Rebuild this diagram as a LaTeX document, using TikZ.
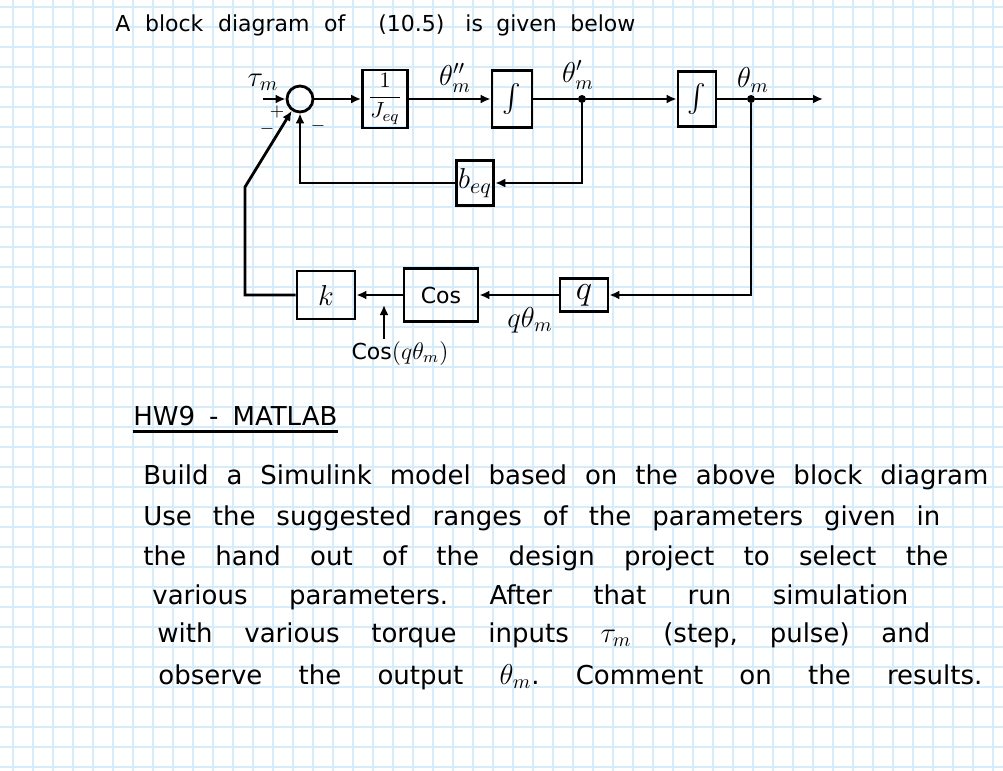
\documentclass[tikz,border=0pt]{standalone}
\usepackage{fontspec}
\usepackage{graphicx}
\setmainfont{DejaVu Sans}
\usetikzlibrary{arrows.meta}

\definecolor{gridblue}{RGB}{214,236,250}
\newcommand{\spreadline}[2]{\makebox[#1][s]{#2}}

\tikzset{
    gridline/.style={gridblue, line width=1pt},
    block/.style={draw, line width=1.4pt, inner sep=1pt, font=\fontsize{11}{13}\selectfont},
    sumjunction/.style={draw, circle, line width=1.4pt, minimum size=13pt, inner sep=0pt},
    junction/.style={circle, fill, inner sep=0pt, minimum size=4pt},
    wire/.style={line width=1.4pt},
    signal/.style={line width=1.4pt, -{Latex[length=5pt, width=4.5pt]}},
    label/.style={inner sep=1pt, font=\fontsize{14}{16}\selectfont},
    sign/.style={inner sep=0pt, font=\fontsize{9}{10}\selectfont},
    note/.style={inner sep=0pt, anchor=west, font=\fontsize{11}{13}\selectfont},
    body/.style={inner sep=0pt, anchor=west, font=\fontsize{13}{15}\selectfont}
}

\begin{document}
\frenchspacing
\begin{tikzpicture}[x=0.5pt, y=-0.5pt]
    \useasboundingbox (0,0) rectangle (1003,771);

    % Grid paper
    \foreach \gx in {13,33,...,993}
        \draw[gridline] (\gx,0) -- (\gx,771);
    \foreach \gy in {6.5,26.5,...,766.5}
        \draw[gridline] (0,\gy) -- (1003,\gy);

    % Title
    \node[note] (titlea) at (115,25) {\spreadline{115pt}{A block diagram of}};
    \node[note] (titleb) at (378,25) {(10.5)};
    \node[note] (titlec) at (465,25) {\spreadline{85pt}{is given below}};

    % Forward path
    \node[sumjunction] (sum) at (300,99) {};
    \node[block, minimum width=22.5pt, minimum height=29pt] (jeq) at (385,99) {$\displaystyle\frac{1}{J_{eq}}$};
    \node[block, minimum width=20pt, minimum height=28.5pt] (int1) at (512,99) {\scalebox{1.4}{$\int$}};
    \node[block, minimum width=19pt, minimum height=27.5pt] (int2) at (697,99) {\scalebox{1.4}{$\int$}};
    \node[junction] (d1) at (582,99) {};
    \node[junction] (d2) at (751,99) {};
    \coordinate (tauin) at (263,99);
    \coordinate (thetaout) at (823,99);

    % Feedback blocks
    \node[block, minimum width=18.5pt, minimum height=22.5pt, font=\fontsize{15}{17}\selectfont] (beq) at (475,183) {$b_{eq}$};
    \node[block, minimum width=24pt, minimum height=16.5pt, font=\fontsize{16}{18}\selectfont] (q) at (584,295) {$q$};
    \node[block, minimum width=37pt, minimum height=26.5pt] (cos) at (441,295) {Cos};
    \node[block, minimum width=29pt, minimum height=24pt, font=\fontsize{15}{17}\selectfont] (k) at (326,295) {$k$};
    \coordinate (kbend) at (245,187);
    \coordinate (costip) at (384,305);

    % Labels
    \node[label] (taulabel) at (263,82) {$\tau_m$};
    \node[sign] (plus) at (277,112) {$+$};
    \node[sign] (minusa) at (267,129) {$-$};
    \node[sign] (minusb) at (318,126) {$-$};
    \node[label] (ddlabel) at (455,78) {$\theta_m''$};
    \node[label] (dlabel) at (578,75) {$\theta_m'$};
    \node[label] (thlabel) at (753,80) {$\theta_m$};
    \node[label] (qlabel) at (530,320) {$q\theta_m$};
    \node[label, font=\fontsize{11}{13}\selectfont] (coslabel) at (400,353) {Cos{\large$(q\theta_m)$}};

    % Connectors
    \draw[signal] (tauin) -- (sum);
    \draw[signal] (sum) -- (jeq);
    \draw[signal] (jeq) -- (int1);
    \draw[wire] (int1) -- (d1);
    \draw[signal] (d1) -- (int2);
    \draw[wire] (int2) -- (d2);
    \draw[signal] (d2) -- (thetaout);
    \draw[signal] (d1) |- (beq);
    \draw[signal] (beq) -| (sum);
    \draw[signal] (d2) |- (q);
    \draw[signal] (q) -- (cos);
    \draw[signal] (cos) -- (k);
    \draw[signal] (k) -| (kbend) -- (sum.235);
    \draw[signal] (coslabel.north -| costip) -- (costip);

    % Assignment
    \node[body, inner ysep=2.5pt] (hw) at (133,416) {\spreadline{102pt}{HW9 - MATLAB}};
    \draw[wire] (hw.south west) -- (hw.south east);
    \node[body] (lineone) at (143,477) {\spreadline{422.5pt}{Build a Simulink model based on the above block diagram}};
    \node[body] (linetwo) at (143,518) {\spreadline{398.5pt}{Use the suggested ranges of the parameters given in}};
    \node[body] (linethree) at (143,558) {\spreadline{402.5pt}{the hand out of the design project to select the}};
    \node[body] (linefour) at (152,597) {\spreadline{378pt}{various parameters. After that run simulation}};
    \node[body] (linefive) at (157,635) {\spreadline{386.5pt}{with various torque inputs {\Large$\tau_m$} (step, pulse) and}};
    \node[body] (linesix) at (158,677) {\spreadline{412pt}{observe the output {\Large$\theta_m$}. Comment on the results.}};
\end{tikzpicture}
\end{document}
